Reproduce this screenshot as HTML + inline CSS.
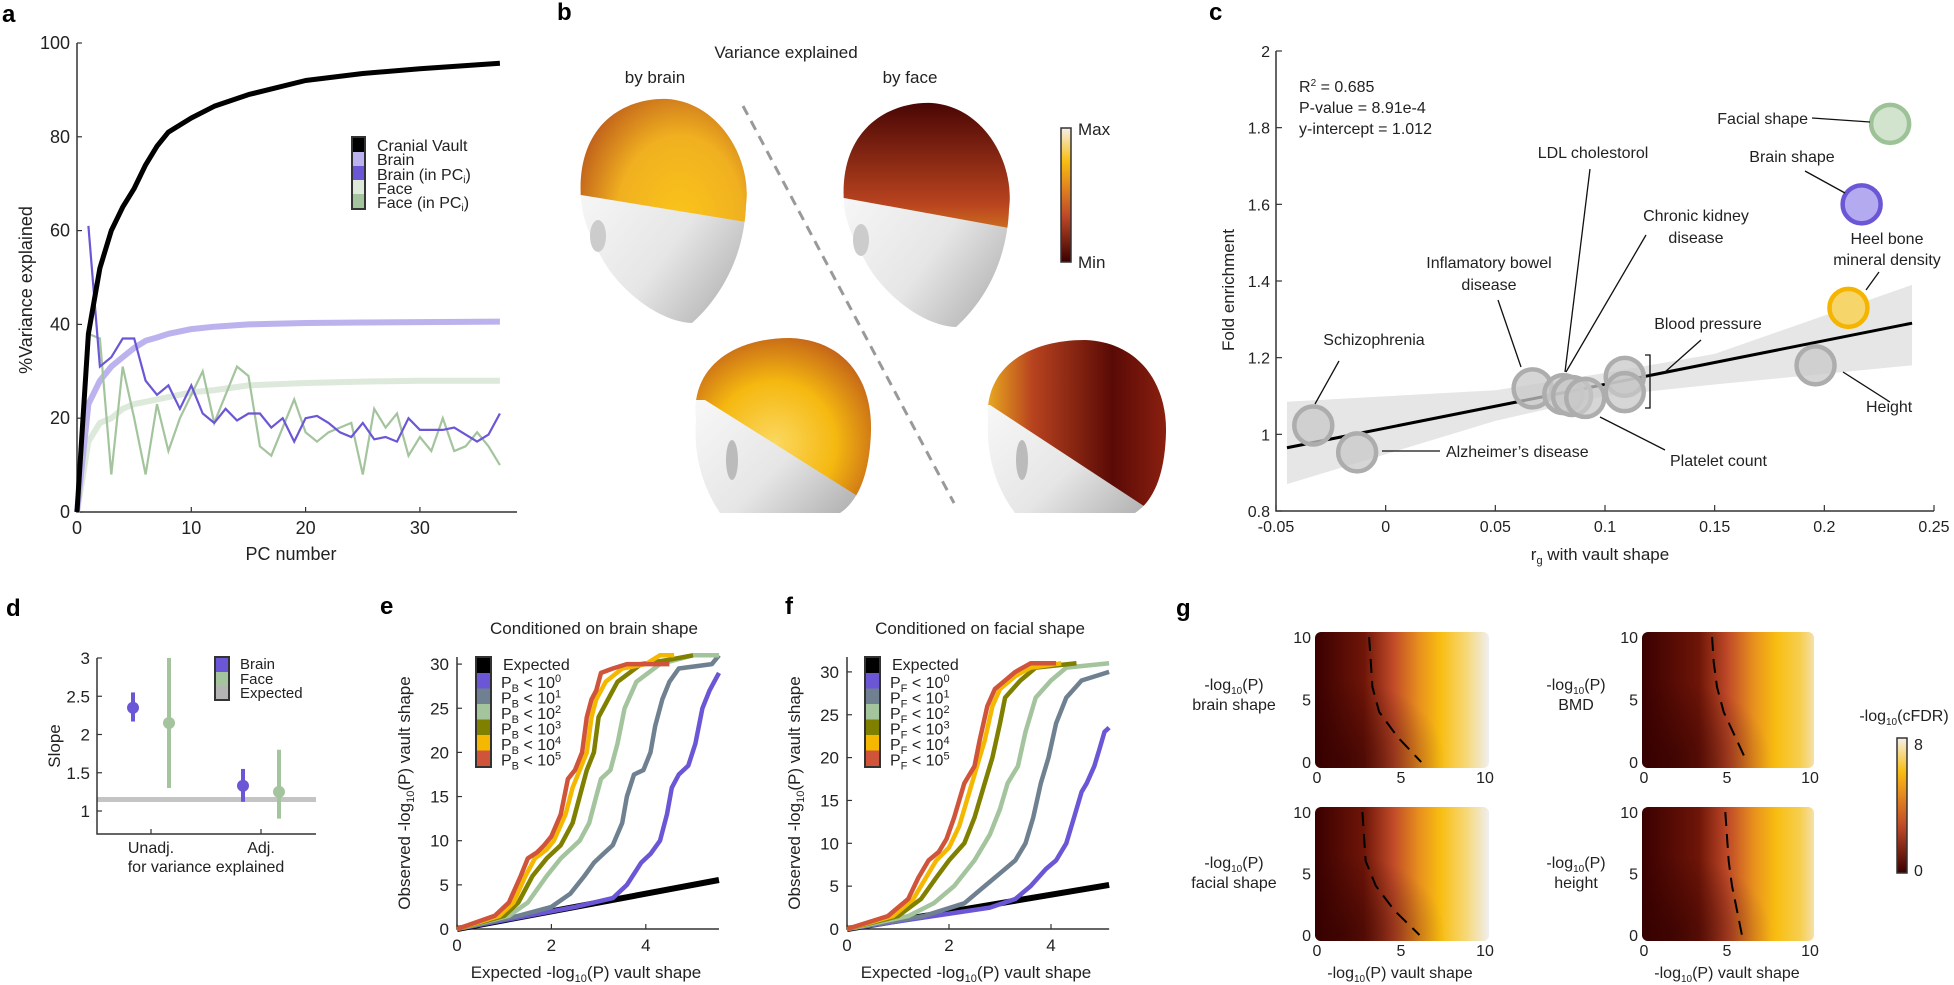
<!DOCTYPE html>
<html><head><meta charset="utf-8">
<style>
html,body{margin:0;padding:0;background:#fff;}
svg{display:block;font-family:"Liberation Sans",Arial,sans-serif;}
text{fill:#222;}
.lt{font-weight:bold;font-size:24px;fill:#000;}
</style></head>
<body>
<svg id="fig" xmlns="http://www.w3.org/2000/svg" width="1954" height="985" viewBox="0 0 1954 985">
<defs>
<linearGradient id="hm1" x1="0" x2="1" y1="0" y2="0">
<stop offset="0" stop-color="#3a0000"/><stop offset="0.28" stop-color="#6e1508"/><stop offset="0.45" stop-color="#c04a28"/><stop offset="0.6" stop-color="#e8901e"/><stop offset="0.72" stop-color="#f8bd10"/><stop offset="0.87" stop-color="#f7d878"/><stop offset="1" stop-color="#efefef"/></linearGradient>
<linearGradient id="hm2" x1="0" x2="1" y1="0" y2="0">
<stop offset="0" stop-color="#3a0000"/><stop offset="0.33" stop-color="#6e1508"/><stop offset="0.5" stop-color="#c04a28"/><stop offset="0.65" stop-color="#e8901e"/><stop offset="0.78" stop-color="#f8bd10"/><stop offset="0.92" stop-color="#f6cf50"/><stop offset="1" stop-color="#f5e0a8"/></linearGradient>
<radialGradient id="hmShade" cx="0.15" cy="0.95" r="0.6"><stop offset="0" stop-color="#300000" stop-opacity="0.6"/><stop offset="1" stop-color="#300000" stop-opacity="0"/></radialGradient>
<linearGradient id="cb" x1="0" x2="0" y1="1" y2="0">
<stop offset="0" stop-color="#3a0000"/><stop offset="0.35" stop-color="#c04a28"/><stop offset="0.6" stop-color="#e8901e"/><stop offset="0.75" stop-color="#f8bd10"/><stop offset="1" stop-color="#f5f0e8"/></linearGradient>
<linearGradient id="skin" x1="0" x2="1" y1="0" y2="1"><stop offset="0" stop-color="#ffffff"/><stop offset="0.6" stop-color="#e6e6e6"/><stop offset="1" stop-color="#a8a8a8"/></linearGradient>
<radialGradient id="capGold" cx="0.6" cy="0.55" r="0.7"><stop offset="0" stop-color="#fbc51a"/><stop offset="0.55" stop-color="#f0b020"/><stop offset="1" stop-color="#b8541a"/></radialGradient>
<radialGradient id="capGold2" cx="0.45" cy="0.6" r="0.7"><stop offset="0" stop-color="#fbd860"/><stop offset="0.5" stop-color="#f5b810"/><stop offset="1" stop-color="#b8501a"/></radialGradient>
<linearGradient id="capRed" x1="0" x2="0" y1="0" y2="1"><stop offset="0" stop-color="#4a0604"/><stop offset="0.45" stop-color="#b8431f"/><stop offset="0.75" stop-color="#f0b020"/><stop offset="1" stop-color="#f8d870"/></linearGradient>
<linearGradient id="capRed2" x1="0" x2="1" y1="0" y2="0"><stop offset="0" stop-color="#e8a820"/><stop offset="0.25" stop-color="#b8431f"/><stop offset="0.7" stop-color="#5a0a06"/><stop offset="1" stop-color="#8a2010"/></linearGradient>
<clipPath id="cap1"><polygon points="560,80 770,80 770,222 746,222 581,195 560,195"/></clipPath>
<clipPath id="cap2"><polygon points="820,80 1030,80 1030,228 1009,228 844,198 820,198"/></clipPath>
<clipPath id="cap3"><polygon points="680,320 890,320 890,500 859,497 705,400 680,400"/></clipPath>
<clipPath id="cap4"><polygon points="970,320 1180,320 1180,515 1150,510 990,405 970,405"/></clipPath>
</defs>

<!-- panel letters -->
<text class="lt" x="2" y="22">a</text>
<text class="lt" x="557" y="20">b</text>
<text class="lt" x="1209" y="20">c</text>
<text class="lt" x="6" y="616">d</text>
<text class="lt" x="380" y="614">e</text>
<text class="lt" x="785" y="614">f</text>
<text class="lt" x="1176" y="616">g</text>

<!-- panel a static -->
<g id="pa">
<text x="32" y="290" font-size="18" text-anchor="middle" transform="rotate(-90 32 290)">%Variance explained</text>
<text x="291" y="560" font-size="18" text-anchor="middle">PC number</text>
<g>
<rect x="352" y="137" width="13" height="72" fill="none" stroke="#333" stroke-width="2"/>
<rect x="353" y="138" width="11" height="14" fill="#000"/>
<rect x="353" y="152" width="11" height="14" fill="#bcb2ee"/>
<rect x="353" y="166" width="11" height="14" fill="#6b56d6"/>
<rect x="353" y="180" width="11" height="14" fill="#dde9da"/>
<rect x="353" y="194" width="11" height="14" fill="#a4c49e"/>
<text x="377" y="151" font-size="16">Cranial Vault</text>
<text x="377" y="165" font-size="16">Brain</text>
<text x="377" y="180" font-size="16">Brain (in PC<tspan font-size="10" dy="3">i</tspan><tspan dy="-3">)</tspan></text>
<text x="377" y="194" font-size="16">Face</text>
<text x="377" y="208" font-size="16">Face (in PC<tspan font-size="10" dy="3">i</tspan><tspan dy="-3">)</tspan></text>
</g>
</g>

<!-- panel b heads -->
<g id="pb">
<text x="786" y="58" font-size="17" text-anchor="middle">Variance explained</text>
<text x="655" y="83" font-size="17" text-anchor="middle">by brain</text>
<text x="910" y="83" font-size="17" text-anchor="middle">by face</text>
<line x1="743" y1="106" x2="954" y2="503" stroke="#999" stroke-width="3" stroke-dasharray="10,7"/>
<g>
<path d="M581,200 C575,120 630,97 668,99 C720,103 752,160 746,205 C744,260 718,300 692,323 C660,322 622,292 604,262 C592,240 583,222 581,200Z" fill="url(#skin)"/>
<path d="M581,200 C575,120 630,97 668,99 C720,103 752,160 746,205 C744,260 718,300 692,323 C660,322 622,292 604,262 C592,240 583,222 581,200Z" fill="url(#capGold)" clip-path="url(#cap1)"/>
<ellipse cx="598" cy="236" rx="8" ry="16" fill="#ccc"/>
</g>
<g>
<path d="M844,204 C838,124 895,101 932,103 C985,107 1015,164 1009,209 C1007,264 982,304 956,327 C924,326 886,296 868,266 C856,244 846,226 844,204Z" fill="url(#skin)"/>
<path d="M844,204 C838,124 895,101 932,103 C985,107 1015,164 1009,209 C1007,264 982,304 956,327 C924,326 886,296 868,266 C856,244 846,226 844,204Z" fill="url(#capRed)" clip-path="url(#cap2)"/>
<ellipse cx="861" cy="240" rx="8" ry="16" fill="#ccc"/>
</g>
<g>
<path d="M696,420 C690,370 730,338 790,338 C845,340 872,380 871,430 C870,470 860,500 840,513 L720,513 C705,490 693,460 696,420Z" fill="url(#skin)"/>
<path d="M696,420 C690,370 730,338 790,338 C845,340 872,380 871,430 C870,470 860,500 840,513 L720,513 C705,490 693,460 696,420Z" fill="url(#capGold2)" clip-path="url(#cap3)"/>
<ellipse cx="732" cy="460" rx="6" ry="20" fill="#bbb"/>
</g>
<g>
<path d="M988,420 C984,370 1025,340 1085,340 C1140,342 1167,385 1166,432 C1165,472 1155,500 1135,513 L1015,513 C998,490 986,460 988,420Z" fill="url(#skin)"/>
<path d="M988,420 C984,370 1025,340 1085,340 C1140,342 1167,385 1166,432 C1165,472 1155,500 1135,513 L1015,513 C998,490 986,460 988,420Z" fill="url(#capRed2)" clip-path="url(#cap4)"/>
<ellipse cx="1022" cy="460" rx="6" ry="20" fill="#bbb"/>
</g>
<rect x="1061" y="128" width="10" height="134" fill="url(#cb)" stroke="#333" stroke-width="1.5"/>
<text x="1078" y="135" font-size="17">Max</text>
<text x="1078" y="268" font-size="17">Min</text>
</g>

<!-- panel c static text -->
<g id="pc">
<text x="1299" y="92" font-size="16">R<tspan font-size="10" dy="-6">2</tspan><tspan dy="6"> = 0.685</tspan></text>
<text x="1299" y="113" font-size="16">P-value = 8.91e-4</text>
<text x="1299" y="134" font-size="16">y-intercept = 1.012</text>
<text x="1234" y="290" font-size="17" text-anchor="middle" transform="rotate(-90 1234 290)">Fold enrichment</text>
<text x="1600" y="560" font-size="17" text-anchor="middle">r<tspan font-size="11" dy="4">g</tspan><tspan dy="-4"> with vault shape</tspan></text>
</g>

<!-- panel d static -->
<g id="pd">
<text x="60" y="746" font-size="17" text-anchor="middle" transform="rotate(-90 60 746)">Slope</text>
<text x="151" y="853" font-size="16" text-anchor="middle">Unadj.</text>
<text x="261" y="853" font-size="16" text-anchor="middle">Adj.</text>
<text x="206" y="872" font-size="16" text-anchor="middle">for variance explained</text>
<rect x="215" y="657" width="14" height="43" fill="none" stroke="#333" stroke-width="2"/>
<rect x="216" y="658" width="12" height="14" fill="#6b56d6"/>
<rect x="216" y="672" width="12" height="14" fill="#a4c49e"/>
<rect x="216" y="686" width="12" height="13" fill="#b4b4b4"/>
<text x="240" y="669" font-size="15">Brain</text>
<text x="240" y="684" font-size="15">Face</text>
<text x="240" y="698" font-size="15">Expected</text>
</g>

<!-- panel e/f static -->
<text x="594" y="634" font-size="17" text-anchor="middle">Conditioned on brain shape</text>
<text x="980" y="634" font-size="17" text-anchor="middle">Conditioned on facial shape</text>
<text x="410" y="793" font-size="17" text-anchor="middle" transform="rotate(-90 410 793)">Observed -log<tspan font-size="11" dy="4">10</tspan><tspan dy="-4">(P) vault shape</tspan></text>
<text x="800" y="793" font-size="17" text-anchor="middle" transform="rotate(-90 800 793)">Observed -log<tspan font-size="11" dy="4">10</tspan><tspan dy="-4">(P) vault shape</tspan></text>
<text x="586" y="978" font-size="17" text-anchor="middle">Expected -log<tspan font-size="11" dy="4">10</tspan><tspan dy="-4">(P) vault shape</tspan></text>
<text x="976" y="978" font-size="17" text-anchor="middle">Expected -log<tspan font-size="11" dy="4">10</tspan><tspan dy="-4">(P) vault shape</tspan></text>

<!-- panel g static -->
<g>
<text x="1234" y="690" font-size="16" text-anchor="middle">-log<tspan font-size="10" dy="4">10</tspan><tspan dy="-4">(P)</tspan></text>
<text x="1234" y="710" font-size="16" text-anchor="middle">brain shape</text>
<text x="1576" y="690" font-size="16" text-anchor="middle">-log<tspan font-size="10" dy="4">10</tspan><tspan dy="-4">(P)</tspan></text>
<text x="1576" y="710" font-size="16" text-anchor="middle">BMD</text>
<text x="1234" y="868" font-size="16" text-anchor="middle">-log<tspan font-size="10" dy="4">10</tspan><tspan dy="-4">(P)</tspan></text>
<text x="1234" y="888" font-size="16" text-anchor="middle">facial shape</text>
<text x="1576" y="868" font-size="16" text-anchor="middle">-log<tspan font-size="10" dy="4">10</tspan><tspan dy="-4">(P)</tspan></text>
<text x="1576" y="888" font-size="16" text-anchor="middle">height</text>
<text x="1400" y="978" font-size="16" text-anchor="middle">-log<tspan font-size="10" dy="4">10</tspan><tspan dy="-4">(P) vault shape</tspan></text>
<text x="1727" y="978" font-size="16" text-anchor="middle">-log<tspan font-size="10" dy="4">10</tspan><tspan dy="-4">(P) vault shape</tspan></text>
<text x="1904" y="721" font-size="16" text-anchor="middle">-log<tspan font-size="10" dy="4">10</tspan><tspan dy="-4">(cFDR)</tspan></text>
<rect x="1897" y="738" width="10" height="135" fill="url(#cb)" stroke="#333" stroke-width="1.5"/>
<text x="1914" y="750" font-size="16">8</text>
<text x="1914" y="876" font-size="16">0</text>
</g>
</svg>

<script>
// ===== data: panel a =====
const cumPC = [0,1,2,3,4,5,6,7,8,10,12,15,20,25,30,37];
const vaultCum = [0,38,52,60,65,69,74,78,81,84,86.5,89,92,93.5,94.5,95.7];
const brainCum = [0,23,28,31,33,35,36.5,37.2,38,39,39.5,40,40.3,40.4,40.5,40.6];
const faceCum = [0,15,19,20,22,23,23.5,24,24.5,25.5,26,27,27.5,27.8,28,28];
const brainPC = [61,31,33,37,37,28,25,27,22,27,21,19,22,19.5,21,21,18,20,15,20,20.5,19,17,16,19,15.5,16,15,20,17.5,17.5,17.5,18,16.5,15,16.5,21];
const facePC = [38,37,8,31,20,8,23,13,20,25,30,19,25,31,29,14,12,18,24,17,15,17,18,19,8,22,18,21,12,16,13,20,13,14,17,14,10];
const aXTicks = [0,10,20,30];
const aYTicks = [0,20,40,60,80,100];
// ===== data: panel c =====
const cNames = ["Schizophrenia","Alzheimer's disease","Inflamatory bowel disease","LDL cholestorol","Chronic kidney disease","Platelet count","Blood pressure 1","Blood pressure 2","Height","Heel bone mineral density","Brain shape","Facial shape"];
const cRg = [-0.033,-0.013,0.067,0.081,0.085,0.091,0.109,0.109,0.196,0.211,0.217,0.23];
const cFold = [1.023,0.953,1.12,1.105,1.10,1.095,1.15,1.11,1.18,1.33,1.60,1.81];
const cKind = ["g","g","g","g","g","g","g","g","g","heel","brain","face"];
const cBandX = [-0.045,0.05,0.1,0.15,0.24];
const cBandLo = [0.87,1.035,1.10,1.13,1.18];
const cBandHi = [1.085,1.115,1.16,1.21,1.39];
const cFitX = [-0.045,0.24];
const cFitY = [0.965,1.29];
const cXTicks = [-0.05,0,0.05,0.1,0.15,0.2,0.25];
const cYTicks = [0.8,1,1.2,1.4,1.6,1.8,2];
// ===== data: panel d =====
const dGroups = ["unadj-brain","unadj-face","adj-brain","adj-face"];
const dSlope = [2.35,2.15,1.33,1.25];
const dLo = [2.17,1.3,1.12,0.9];
const dHi = [2.55,3.0,1.55,1.8];
const dExpected = [1.15];
const dYTicks = [1,1.5,2,2.5,3];
// ===== data: panels e/f =====
const qqLabels = ["P < 10^0","P < 10^1","P < 10^2","P < 10^3","P < 10^4","P < 10^5"];
const eRedX=[0,0.8,1.1,1.35,1.5,1.7,1.85,2.0,2.2,2.35,2.5,2.65,2.75,2.85,2.95,3.05,3.3,3.6,4.5];
const eRedY=[0,1.5,3,6,8,8.7,9.5,10.5,13,17,18,20,24,26,27,29,29.5,30,30];
const eYelX=[0,0.9,1.2,1.45,1.65,1.9,2.05,2.3,2.45,2.6,2.75,2.85,2.95,3.15,3.5,4.0,4.3,4.6];
const eYelY=[0,1.5,3,6,8,9,10,13,16,18,20,24,26,28,29.5,30,31,31];
const eOliX=[0,1,1.3,1.6,1.9,2.2,2.45,2.6,2.75,2.9,3.0,3.2,3.4,3.9,4.5,5.0];
const eOliY=[0,1.5,3,6,8,9.5,12,15,18,20,24,26,28,30,30.5,31];
const eGrnX=[0,1.1,1.5,1.9,2.2,2.6,2.8,2.95,3.05,3.25,3.4,3.55,3.8,4.3,5.0,5.55];
const eGrnY=[0,1.5,3,6,8,10,12,15,17,18,21,25,28,30,31,31];
const eSlaX=[0,1.3,2.0,2.4,2.7,2.9,3.1,3.3,3.5,3.6,3.75,3.95,4.1,4.2,4.35,4.5,4.7,5.4,5.55];
const eSlaY=[0,1.5,2.5,4,6,7.5,8.5,9.5,12,15,17.5,18,20,23,26,28,29.5,30,31];
const ePurX=[0,2.5,3.3,3.6,3.9,4.1,4.3,4.45,4.55,4.7,4.9,5.05,5.2,5.35,5.5,5.55];
const ePurY=[0,2.5,3.5,5,7.5,8.5,10,13,16,17.5,18.5,21,25,27,28.5,29];
const fRedX=[0,0.8,1.2,1.4,1.6,1.8,1.95,2.1,2.3,2.5,2.6,2.75,2.9,3.1,3.3,3.6,4.1];
const fRedY=[0,1.5,3.5,6,8,9,10.5,13,17,19,22,26,28,29,30,31,31];
const fYelX=[0,0.9,1.3,1.55,1.75,2.0,2.2,2.4,2.55,2.7,2.85,3.0,3.3,3.6,4.2];
const fYelY=[0,1.5,3.5,6,8,9.5,12,16,19,22,26,28,29.5,30.5,31];
const fOliX=[0,1.0,1.45,1.75,2.0,2.3,2.5,2.7,2.85,3.0,3.1,3.4,3.7,4.5];
const fOliY=[0,1.5,3.5,6,8,10,13,17,20,24,27,29,30.5,31];
const fGrnX=[0,1.2,1.7,2.1,2.5,2.8,3.0,3.15,3.35,3.5,3.7,4.0,4.3,5.14];
const fGrnY=[0,1.5,3,5,8,11,14,17,19,23,27,29,30.5,31];
const fSlaX=[0,1.5,2.3,2.7,3.0,3.3,3.5,3.65,3.8,3.95,4.1,4.3,4.6,5.14];
const fSlaY=[0,1.5,3,5,6.5,8,10,13,17,20,24,27,29,30];
const fPurX=[0,2.8,3.3,3.6,3.9,4.1,4.3,4.45,4.6,4.7,4.85,4.95,5.05,5.14];
const fPurY=[0,2.5,3.5,5,7,8,10,13,16,17,19,21,23,23.5];
const eXTicks=[0,2,4];
const eYTicks=[0,5,10,15,20,25,30];
// ===== data: panel g (contour x-positions at given y) =====
const gContourY = [10,8,6,4,2,0];
const gBrainX = [3.1,3.2,3.3,3.7,4.8,6.2];
const gBmdX = [4.1,4.2,4.4,4.8,5.5,6.2];
const gFaceX = [2.7,2.8,2.9,3.5,4.6,6.1];
const gHeightX = [4.9,5.0,5.1,5.3,5.6,5.9];
const gTicks = [0,5,10];

const NS="http://www.w3.org/2000/svg";
const svg=document.getElementById('fig');
function el(tag,attrs,parent){const e=document.createElementNS(NS,tag);for(const k in attrs)e.setAttribute(k,attrs[k]);(parent||svg).appendChild(e);return e;}
function tx(x,y,s,size,anchor,parent){const t=el('text',{x:x,y:y,'font-size':size,'text-anchor':anchor},parent);t.textContent=s;return t;}
function lin(d0,d1,r0,r1){return v=>r0+(v-d0)*(r1-r0)/(d1-d0);}
function pathFrom(xs,ys,sx,sy){return xs.map((v,i)=>(i?'L':'M')+sx(v).toFixed(1)+','+sy(ys[i]).toFixed(1)).join(' ');}
function fmt(v){return String(v);}

// ---------- panel a ----------
{
const sx=lin(0,1,77,88.43), sy=lin(0,100,512,43);
const g=el('g',{});


const ax=el('path',{d:'M77,43 L77,512 L517,512',fill:'none',stroke:'#333','stroke-width':1.5},g);


aXTicks.forEach(v=>{
 const t=el('line',{x1:sx(v),x2:sx(v),y1:512,y2:507,stroke:'#333','stroke-width':1.2},g);
 
 
 const l=tx(sx(v),534,fmt(v),18,'middle',g);
 
 
});
aYTicks.forEach(v=>{
 const t=el('line',{x1:77,x2:82,y1:sy(v),y2:sy(v),stroke:'#333','stroke-width':1.2},g);
 
 
 const l=tx(70,sy(v)+6,fmt(v),18,'end',g);
 
 
});
const pcs=brainPC.map((v,i)=>i+1);
const l1=el('path',{d:pathFrom(cumPC,faceCum,sx,sy),fill:'none',stroke:'#dde9da','stroke-width':6,'stroke-linejoin':'round'},g);


const l2=el('path',{d:pathFrom(cumPC,brainCum,sx,sy),fill:'none',stroke:'#bcb2ee','stroke-width':6,'stroke-linejoin':'round'},g);


const l3=el('path',{d:pathFrom(pcs,facePC,sx,sy),fill:'none',stroke:'#a4c49e','stroke-width':2.2},g);


const l4=el('path',{d:pathFrom(pcs,brainPC,sx,sy),fill:'none',stroke:'#6b56d6','stroke-width':2.2},g);


const l5=el('path',{d:pathFrom(cumPC,vaultCum,sx,sy),fill:'none',stroke:'#000','stroke-width':5,'stroke-linejoin':'round'},g);


}

// ---------- panel c ----------
{
const sx=lin(-0.05,0.25,1276,1934), sy=lin(0.8,2,511,51);
const g=el('g',{});


const bandPts=cBandX.map((v,i)=>sx(v)+','+sy(cBandHi[i])).concat(cBandX.slice().reverse().map((v,i)=>sx(v)+','+sy(cBandLo[cBandX.length-1-i]))).join(' ');
const band=el('polygon',{points:bandPts,fill:'#e6e6e6'},g);


const fit=el('line',{x1:sx(cFitX[0]),y1:sy(cFitY[0]),x2:sx(cFitX[1]),y2:sy(cFitY[1]),stroke:'#000','stroke-width':3},g);


const ax=el('path',{d:'M1276,51 L1276,511 L1934,511',fill:'none',stroke:'#333','stroke-width':1.5},g);


cXTicks.forEach(v=>{
 const t=el('line',{x1:sx(v),x2:sx(v),y1:511,y2:505,stroke:'#333','stroke-width':1.2},g);
 
 
 const l=tx(sx(v),532,fmt(v),16,'middle',g);
 
 
});
cYTicks.forEach(v=>{
 const t=el('line',{x1:1276,x2:1282,y1:sy(v),y2:sy(v),stroke:'#333','stroke-width':1.2},g);
 
 
 const l=tx(1270,sy(v)+6,fmt(v),16,'end',g);
 
 
});
const styles={g:['rgba(200,200,200,0.75)','#adadad'],heel:['#f6d56a','#f5b400'],brain:['#b4aaf0','#6b56d6'],face:['#d2e3ce','#9dc297']};
cRg.forEach((v,i)=>{
 const s=styles[cKind[i]];
 const c=el('circle',{cx:sx(v),cy:sy(cFold[i]),r:19,fill:s[0],stroke:s[1],'stroke-width':4.5},g);
 
 
});
// annotations
const ann=[[1339,361,1315,404],[1382,451,1440,451],[1498,300,1521,367],[1590,169,1565,372],[1646,235,1566,372],[1600,417,1665,450],[1701,340,1665,372],[1843,372,1890,402],[1879,272,1866,290],[1805,171,1845,193],[1812,118,1870,122]];
ann.forEach(a=>{
 const l=el('line',{x1:a[0],y1:a[1],x2:a[2],y2:a[3],stroke:'#111','stroke-width':1.3},g);
 
 
});
const br=el('path',{d:'M1645,355 L1650,355 L1650,408 L1645,408',fill:'none',stroke:'#111','stroke-width':1.3},g);


const labs=[[1374,345,'middle','Schizophrenia'],[1446,457,'start',"Alzheimer’s disease"],[1489,268,'middle','Inflamatory bowel'],[1489,290,'middle','disease'],[1593,158,'middle','LDL cholestorol'],[1696,221,'middle','Chronic kidney'],[1696,243,'middle','disease'],[1670,466,'start','Platelet count'],[1708,329,'middle','Blood pressure'],[1866,412,'start','Height'],[1887,244,'middle','Heel bone'],[1887,265,'middle','mineral density'],[1792,162,'middle','Brain shape'],[1808,124,'end','Facial shape']];
labs.forEach(a=>{
 const t=tx(a[0],a[1],a[3],16,a[2],g);
 
 
});
}

// ---------- panel d ----------
{
const sy=lin(1,3,811,658);
const xs=[133,169,243,279];
const cols=['#6b56d6','#a4c49e','#6b56d6','#a4c49e'];
const g=el('g',{});


const ex=el('line',{x1:97,x2:316,y1:sy(dExpected[0]),y2:sy(dExpected[0]),stroke:'#c4c4c4','stroke-width':5},g);


const ax=el('path',{d:'M97,658 L97,834 L316,834',fill:'none',stroke:'#333','stroke-width':1.5},g);


dYTicks.forEach(v=>{
 const t=el('line',{x1:97,x2:102,y1:sy(v),y2:sy(v),stroke:'#333','stroke-width':1.2},g);
 
 
 const l=tx(90,sy(v)+6,fmt(v),17,'end',g);
 
 
});
[151,261].forEach(x=>{
 const t=el('line',{x1:x,x2:x,y1:834,y2:829,stroke:'#333','stroke-width':1.2},g);
 
 
});
dSlope.forEach((v,i)=>{
 const e=el('line',{x1:xs[i],x2:xs[i],y1:sy(dLo[i]),y2:sy(dHi[i]),stroke:cols[i],'stroke-width':4},g);
 
 
 const c=el('circle',{cx:xs[i],cy:sy(v),r:6,fill:cols[i]},g);
 
 
});
}

// ---------- panels e/f ----------
const qqColors=['#6b56d6','#6f8090','#a4c49e','#7f7f00','#f5b800','#d0543a'];
function qq(prefix,x0,y0,xmax,pxX,pxY,yTop,series,legendX,sub){
 const sx=v=>x0+v*pxX, sy=v=>y0-v*pxY;
 const g=el('g',{});
 
 
 const ax=el('path',{d:`M${x0},${yTop} L${x0},${y0} L${sx(xmax)},${y0}`,fill:'none',stroke:'#333','stroke-width':1.5},g);
 
 
 eXTicks.forEach(v=>{
  const t=el('line',{x1:sx(v),x2:sx(v),y1:y0,y2:y0-5,stroke:'#333','stroke-width':1.2},g);
  
  
  const l=tx(sx(v),951,fmt(v),17,'middle',g);
  
  
 });
 eYTicks.forEach(v=>{
  const t=el('line',{x1:x0,x2:x0+5,y1:sy(v),y2:sy(v),stroke:'#333','stroke-width':1.2},g);
  
  
  const l=tx(x0-8,sy(v)+6,fmt(v),17,'end',g);
  
  
 });
 const exp=el('line',{x1:sx(0),y1:sy(0),x2:sx(xmax),y2:sy(xmax),stroke:'#000','stroke-width':6},g);
 
 
 series.forEach((s,i)=>{
  const p=el('path',{d:pathFrom(s[0],s[1],sx,sy),fill:'none',stroke:qqColors[i],'stroke-width':4.5,'stroke-linejoin':'round'},g);
  
  
 });
 // legend
 const fr=el('rect',{x:legendX,y:657,width:15,height:110,fill:'#000',stroke:'#333','stroke-width':2},g);
 
 
 qqColors.forEach((c,i)=>{
  const r=el('rect',{x:legendX+1,y:673+i*15.5,width:13,height:15.5,fill:c},g);
  
  
 });
 const t0=tx(legendX+27,670,'Expected',16,'start',g);
 
 
 qqLabels.forEach((s,i)=>{
  const t=el('text',{x:legendX+25,y:688+i*15.5,'font-size':16},g);
  
  
  const a=el('tspan',{},t);a.textContent='P';
  const b=el('tspan',{'font-size':11,dy:4},t);b.textContent=sub;
  const c=el('tspan',{dy:-4},t);c.textContent=' < 10';
  const d=el('tspan',{'font-size':11,dy:-6},t);d.textContent=String(i);
 });
}
qq('e',457,929,5.55,47.2,8.83,657,[[ePurX,ePurY],[eSlaX,eSlaY],[eGrnX,eGrnY],[eOliX,eOliY],[eYelX,eYelY],[eRedX,eRedY]],476,'B');
qq('f',847,929,5.14,51,8.57,657,[[fPurX,fPurY],[fSlaX,fSlaY],[fGrnX,fGrnY],[fOliX,fOliY],[fYelX,fYelY],[fRedX,fRedY]],865,'F');

// ---------- panel g ----------
function heat(name,x0,x10,y0,y10,grad,cx){
 const sx=lin(0,10,x0,x10), sy=lin(0,10,y0,y10);
 const g=el('g',{});
 
 
 const r=el('rect',{x:x0-2,y:y10-5,width:x10-x0+6,height:y0-y10+11,rx:6,fill:'url(#'+grad+')'},g);
 
 
 const sh=el('rect',{x:x0-2,y:y10-5,width:x10-x0+6,height:y0-y10+11,rx:6,fill:'url(#hmShade)'},g);
 
 
 const p=el('path',{d:pathFrom(cx,gContourY,sx,sy),fill:'none',stroke:'#000','stroke-width':2,'stroke-dasharray':'14,8'},g);
 
 
 gTicks.forEach(v=>{
  const a=tx(sx(v),y0+21,fmt(v),16,'middle',g);
  
  
  const b=tx(x0-6,sy(v)+6,fmt(v),16,'end',g);
  
  
 });
}
heat('brain',1317,1485,762,637,'hm1',gBrainX);
heat('bmd',1644,1810,762,637,'hm2',gBmdX);
heat('face',1317,1485,935,812,'hm1',gFaceX);
heat('height',1644,1810,935,812,'hm2',gHeightX);
</script>
</body></html>
